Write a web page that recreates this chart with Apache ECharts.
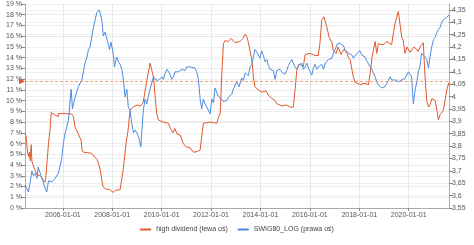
<!DOCTYPE html>
<html>
<head>
<meta charset="utf-8">
<script src="https://cdn.jsdelivr.net/npm/echarts@6/dist/echarts.min.js"></script>
<style>html,body{margin:0;padding:0;background:#fff}#c{width:474px;height:245px}</style>
</head>
<body>
<div id="c"></div>
<script>
// Dates as decimal years
const redYears = [2004.47,2004.51,2004.54,2004.58,2004.62,2004.65,2004.68,2004.72,2004.75,2004.80,2004.88,2004.96,2005.08,2005.16,2005.21,2005.28,2005.32,2005.35,2005.42,2005.49,2005.53,2005.61,2005.69,2005.81,2005.82,2006.09,2006.36,2006.43,2006.50,2006.57,2006.63,2006.74,2006.78,2006.83,2007.17,2007.31,2007.39,2007.44,2007.51,2007.58,2007.63,2007.71,2007.91,2008.04,2008.12,2008.32,2008.44,2008.56,2008.64,2008.72,2008.84,2009.01,2009.13,2009.25,2009.33,2009.40,2009.53,2009.60,2009.67,2009.74,2009.80,2009.87,2010.06,2010.27,2010.34,2010.46,2010.54,2010.62,2010.75,2010.88,2010.99,2011.15,2011.28,2011.44,2011.56,2011.62,2011.69,2011.96,2012.23,2012.28,2012.37,2012.43,2012.50,2012.57,2012.69,2012.81,2012.97,2013.17,2013.29,2013.38,2013.46,2013.51,2013.65,2013.71,2013.78,2013.90,2014.06,2014.23,2014.32,2014.47,2014.59,2014.67,2014.87,2015.04,2015.20,2015.33,2015.40,2015.47,2015.56,2015.74,2015.81,2016.01,2016.21,2016.34,2016.41,2016.48,2016.57,2016.68,2016.78,2016.89,2016.94,2017.06,2017.14,2017.26,2017.38,2017.50,2017.56,2017.63,2017.71,2017.76,2017.83,2018.03,2018.23,2018.37,2018.44,2018.52,2018.57,2018.64,2018.71,2018.77,2018.96,2019.12,2019.31,2019.38,2019.45,2019.52,2019.58,2019.65,2019.72,2019.78,2019.85,2019.93,2020.05,2020.22,2020.38,2020.46,2020.59,2020.66,2020.73,2020.80,2020.86,2020.94,2021.07,2021.14,2021.20,2021.27,2021.40,2021.47,2021.54,2021.63];
const redValues = [6.9,6.7,6.6,5.1,4.8,5.2,4.4,5.9,4.3,4.0,3.5,3.1,3.0,2.8,2.6,2.4,3.0,4.0,6.0,7.5,8.9,8.8,8.65,8.5,8.8,8.8,8.75,8.5,7.5,7.2,6.9,6.3,5.4,5.2,5.1,4.7,4.5,4.2,3.6,2.6,2.0,1.8,1.7,1.45,1.65,1.7,3.5,6.0,7.2,9.1,9.4,9.6,9.5,9.8,9.8,11.9,13.5,13.4,12.2,10.3,8.8,8.2,8.0,7.9,7.5,7.0,7.4,6.9,6.8,6.0,5.7,5.6,5.2,5.25,5.4,6.6,7.9,8.0,7.9,8.3,8.8,12.2,15.3,15.6,15.5,15.8,15.4,15.5,15.8,16.2,15.9,15.4,13.8,12.2,11.3,11.0,10.8,10.9,10.5,10.2,10.0,9.7,9.5,9.6,9.4,9.4,11.0,12.8,13.4,13.2,14.3,14.4,14.2,14.2,15.4,17.5,17.8,16.9,15.9,15.4,14.7,14.4,15.0,14.3,14.8,14.4,14.0,13.8,12.8,12.2,11.7,11.5,11.6,11.5,12.5,14.1,14.7,15.5,14.4,15.3,15.2,15.5,15.2,16.3,17.2,17.8,18.3,18.2,15.9,15.6,14.4,15.0,14.5,15.0,14.6,15.0,15.4,12.2,10.0,9.4,9.6,10.2,10.0,9.1,8.2,8.7,9.1,10.0,11.0,11.7];

const blueYears = [2004.47,2004.54,2004.61,2004.68,2004.75,2004.81,2004.88,2004.96,2005.00,2005.12,2005.21,2005.28,2005.35,2005.42,2005.55,2005.69,2005.82,2005.89,2005.96,2006.02,2006.09,2006.16,2006.23,2006.30,2006.34,2006.39,2006.43,2006.50,2006.58,2006.63,2006.77,2006.90,2006.97,2007.04,2007.10,2007.17,2007.24,2007.31,2007.38,2007.48,2007.58,2007.64,2007.71,2007.78,2007.85,2007.89,2007.95,2008.05,2008.09,2008.18,2008.25,2008.32,2008.39,2008.45,2008.52,2008.59,2008.65,2008.72,2008.79,2008.86,2008.93,2009.00,2009.06,2009.13,2009.16,2009.20,2009.26,2009.33,2009.40,2009.46,2009.53,2009.60,2009.67,2009.74,2009.86,2009.94,2010.01,2010.07,2010.14,2010.22,2010.34,2010.41,2010.48,2010.54,2010.67,2010.75,2010.83,2010.95,2011.02,2011.15,2011.35,2011.42,2011.49,2011.56,2011.62,2011.69,2011.76,2011.83,2011.89,2011.96,2012.03,2012.10,2012.16,2012.23,2012.30,2012.37,2012.43,2012.50,2012.64,2012.70,2012.77,2012.84,2012.90,2012.97,2013.04,2013.13,2013.24,2013.31,2013.38,2013.45,2013.51,2013.58,2013.65,2013.71,2013.78,2013.85,2013.92,2013.98,2014.05,2014.12,2014.19,2014.26,2014.32,2014.39,2014.46,2014.52,2014.59,2014.66,2014.72,2014.79,2014.86,2014.93,2014.99,2015.06,2015.13,2015.20,2015.27,2015.33,2015.40,2015.47,2015.53,2015.60,2015.67,2015.74,2015.81,2015.88,2015.94,2016.01,2016.08,2016.14,2016.21,2016.28,2016.34,2016.41,2016.48,2016.55,2016.62,2016.68,2016.75,2016.82,2016.89,2016.95,2017.02,2017.12,2017.22,2017.29,2017.36,2017.42,2017.49,2017.56,2017.63,2017.70,2017.76,2017.83,2017.90,2017.96,2018.03,2018.10,2018.17,2018.23,2018.30,2018.37,2018.44,2018.51,2018.57,2018.64,2018.71,2018.77,2018.84,2018.91,2018.98,2019.04,2019.11,2019.18,2019.25,2019.31,2019.38,2019.45,2019.52,2019.58,2019.65,2019.72,2019.78,2019.85,2019.92,2019.99,2020.05,2020.12,2020.16,2020.19,2020.26,2020.33,2020.39,2020.46,2020.52,2020.59,2020.66,2020.73,2020.80,2020.86,2020.93,2021.00,2021.07,2021.14,2021.20,2021.27,2021.34,2021.40,2021.47,2021.54,2021.60,2021.63];
const blueValues = [3.643,3.63,3.615,3.655,3.70,3.68,3.69,3.67,3.716,3.68,3.655,3.63,3.615,3.66,3.655,3.67,3.69,3.72,3.755,3.81,3.85,3.877,3.905,3.99,4.03,3.95,3.97,3.998,3.99,4.04,4.067,4.136,4.156,4.19,4.20,4.24,4.28,4.31,4.34,4.35,4.31,4.245,4.26,4.255,4.21,4.19,4.22,4.17,4.12,4.16,4.14,4.13,4.11,4.07,3.998,4.03,3.958,3.946,3.89,3.853,3.865,3.853,3.84,3.81,3.797,3.865,3.946,3.99,3.97,4.0,4.03,4.055,4.08,4.07,4.065,4.06,4.08,4.07,4.095,4.11,4.09,4.07,4.08,4.10,4.10,4.10,4.11,4.105,4.12,4.12,4.115,4.10,4.07,3.99,3.95,3.99,3.97,3.975,3.946,3.93,3.99,3.975,4.035,4.03,4.0,4.005,3.99,3.98,3.985,3.998,4.005,4.01,4.03,4.035,4.06,4.04,4.075,4.065,4.095,4.09,4.085,4.12,4.13,4.16,4.19,4.18,4.185,4.155,4.185,4.165,4.14,4.15,4.125,4.11,4.115,4.105,4.07,4.105,4.10,4.11,4.10,4.105,4.09,4.105,4.125,4.13,4.15,4.135,4.12,4.11,4.125,4.12,4.135,4.11,4.12,4.135,4.115,4.10,4.087,4.115,4.13,4.11,4.12,4.12,4.13,4.11,4.135,4.14,4.15,4.15,4.155,4.175,4.19,4.215,4.215,4.21,4.205,4.19,4.195,4.175,4.18,4.168,4.155,4.16,4.175,4.168,4.185,4.168,4.168,4.16,4.145,4.14,4.12,4.11,4.095,4.08,4.06,4.047,4.04,4.035,4.027,4.04,4.053,4.067,4.08,4.067,4.073,4.067,4.073,4.06,4.067,4.067,4.06,4.073,4.087,4.10,4.108,4.08,4.01,3.97,4.027,4.06,4.10,4.125,4.175,4.175,4.16,4.15,4.115,4.16,4.20,4.23,4.24,4.26,4.27,4.28,4.30,4.31,4.31,4.32,4.315,4.33];

const xTickYears = [2006, 2008, 2010, 2012, 2014, 2016, 2018, 2020];
const leftTicks = { min: 0, max: 19, step: 1 };
const rightTicks = { min: 3.55, max: 4.374, step: 0.05 };
const lastRedMark = 11.8;
const seriesNames = ['high dividend (lewa oś)', 'SWIG80_LOG (prawa oś)'];

function yrToTime(y) {
  const yr = Math.floor(y);
  const a = new Date(yr, 0, 1).getTime();
  const b = new Date(yr + 1, 0, 1).getTime();
  return a + (y - yr) * (b - a);
}
const redData = redYears.map((y, i) => [yrToTime(y), redValues[i]]);
const blueData = blueYears.map((y, i) => [yrToTime(y), blueValues[i]]);
const tickTimes = xTickYears.map(y => new Date(y, 0, 1).getTime());

const RED = '#e2582c';
const BLUE = '#4d8be3';
const labelStyle = { fontSize: 7, color: '#555', fontFamily: 'Liberation Sans, Arial, sans-serif' };

const chart = echarts.init(document.getElementById('c'), null, { renderer: 'canvas' });
chart.setOption({
  animation: false,
  backgroundColor: '#fff',
  grid: { left: 25, right: 25, top: 4, bottom: 37, containLabel: false },
  legend: {
    bottom: 7, left: 'center', itemWidth: 11, itemHeight: 2, itemGap: 10,
    icon: 'rect',
    textStyle: { fontSize: 7, color: '#444', fontFamily: 'Liberation Sans, Arial, sans-serif' },
    data: seriesNames
  },
  xAxis: {
    type: 'value',
    min: redData[0][0], max: redData[redData.length - 1][0],
    axisLine: { lineStyle: { color: '#aaa' } },
    axisTick: { show: true, length: 3, customValues: tickTimes, lineStyle: { color: '#888' } },
    axisLabel: {
      customValues: tickTimes, ...labelStyle, margin: 4,
      formatter: v => { const d = new Date(v); return d.getFullYear() + '-01-01'; }
    },
    splitLine: { show: true, lineStyle: { color: '#e8e8e8', width: 1 } }
  },
  yAxis: [
    {
      type: 'value', min: leftTicks.min, max: leftTicks.max, interval: leftTicks.step,
      axisLine: { show: true, lineStyle: { color: '#aaa' } },
      axisTick: { show: true, length: 4, lineStyle: { color: '#888' } },
      axisLabel: { ...labelStyle, margin: 3, formatter: '{value} %' },
      splitLine: { show: true, lineStyle: { color: '#ececec' } }
    },
    {
      type: 'value', min: rightTicks.min, max: rightTicks.max, interval: rightTicks.step,
      position: 'right',
      axisLine: { show: true, lineStyle: { color: '#aaa' } },
      axisTick: { show: true, length: 4, lineStyle: { color: '#888' } },
      axisLabel: {
        ...labelStyle, margin: 3, showMaxLabel: false,
        formatter: v => (Math.round(v * 100) / 100).toString().replace('.', ',')
      },
      splitLine: { show: true, lineStyle: { color: '#f0f0f0' } }
    }
  ],
  series: [
    {
      name: seriesNames[0], type: 'line', yAxisIndex: 0, data: redData,
      showSymbol: false, symbol: 'none', lineStyle: { color: RED, width: 1 }, itemStyle: { color: RED },
      markLine: {
        silent: true, symbol: ['none', 'none'],
        label: { show: false },
        lineStyle: { color: '#f08a55', type: [3, 2], width: 1, opacity: 0.8 },
        emphasis: { disabled: true },
        data: [{ yAxis: lastRedMark }]
      },
      markPoint: {
        silent: true,
        symbol: 'triangle', symbolSize: [6, 6], symbolRotate: -90, symbolOffset: [-3, 0],
        itemStyle: { color: RED },
        label: { show: false },
        data: [{ coord: [redData[0][0], lastRedMark] }]
      }
    },
    {
      name: seriesNames[1], type: 'line', yAxisIndex: 1, data: blueData,
      showSymbol: false, symbol: 'none', lineStyle: { color: BLUE, width: 1 }, itemStyle: { color: BLUE }
    }
  ]
});
</script>
</body>
</html>
